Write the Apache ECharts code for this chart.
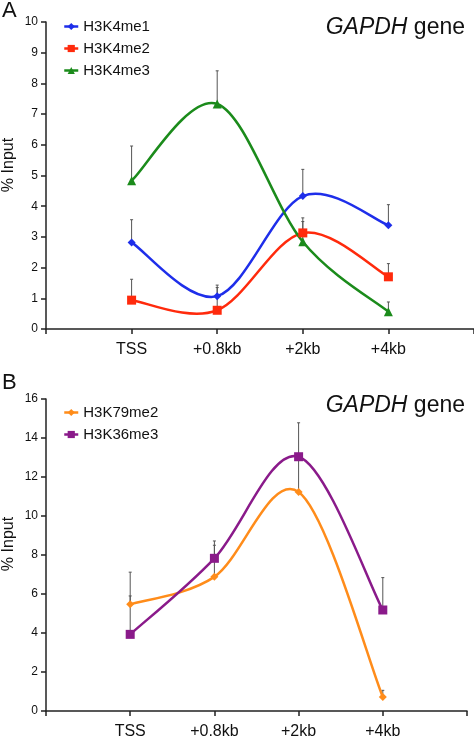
<!DOCTYPE html>
<html>
<head>
<meta charset="utf-8">
<script src="https://cdn.jsdelivr.net/npm/echarts@6/dist/echarts.min.js"></script>
<style>
html, body { margin: 0; padding: 0; background: #fff; }
#chart { width: 474px; height: 741px; }
</style>
</head>
<body>
<div id="chart"></div>
<script>
// categories along the gene
var categories = ['TSS', '+0.8kb', '+2kb', '+4kb'];

// panel A: H3K4 methylation (% input) and tops of the error bars
var h3k4me1 = [2.82, 1.07, 4.33, 3.38];
var h3k4me1Top = [3.56, 1.43, 5.2, 4.05];
var h3k4me2 = [0.94, 0.61, 3.13, 1.7];
var h3k4me2Top = [1.62, 1.35, 3.62, 2.13];
var h3k4me3 = [4.83, 7.33, 2.84, 0.56];
var h3k4me3Top = [5.96, 8.41, 3.5, 0.88];

// panel B
var h3k79me2 = [5.47, 6.88, 11.23, 0.72];
var h3k79me2Top = [5.9, 8.5, 12.9, 1.06];
var h3k36me3 = [3.93, 7.83, 13.04, 5.18];
var h3k36me3Top = [7.12, 8.72, 14.78, 6.84];

var black = '#222';
var font = 'Arial, "Liberation Sans", sans-serif';

function pts(vals) {
	return vals.map(function(v, i) { return [i + 1, v]; });
}
function errPts(vals, tops) {
	return vals.map(function(v, i) { return [i + 1, v, tops[i]]; });
}

// 只画点（和图例），曲线由下面的 custom 系列画
function markSeries(name, vals, color, symbol, size, idx) {
	return {
		name: name,
		type: 'line',
		xAxisIndex: idx,
		yAxisIndex: idx,
		data: pts(vals),
		symbol: symbol,
		symbolSize: size,
		color: color,
		lineStyle: { width: 2.5, color: color, opacity: 0 },
		itemStyle: { color: color },
		z: 4
	};
}

// Excel 式平滑曲线 (Catmull-Rom -> bezier)
function curveSeries(vals, color, idx) {
	return {
		type: 'custom',
		xAxisIndex: idx,
		yAxisIndex: idx,
		data: pts(vals),
		silent: true,
		z: 3,
		renderItem: function(params, api) {
			if (params.dataIndex !== 0) return;
			var p = vals.map(function(v, i) { return api.coord([i + 1, v]); });
			var n = p.length;
			var d = 'M' + p[0][0] + ' ' + p[0][1];
			for (var i = 0; i < n - 1; i++) {
				var a = p[i - 1] || p[i];
				var b = p[i];
				var c = p[i + 1];
				var e = p[i + 2] || p[i + 1];
				var c1x = b[0] + (c[0] - a[0]) / 6;
				var c1y = b[1] + (c[1] - a[1]) / 6;
				var c2x = c[0] - (e[0] - b[0]) / 6;
				var c2y = c[1] - (e[1] - b[1]) / 6;
				d += ' C' + c1x + ' ' + c1y + ' ' + c2x + ' ' + c2y + ' ' + c[0] + ' ' + c[1];
			}
			return {
				type: 'path',
				shape: { pathData: d },
				style: { fill: null, stroke: color, lineWidth: 2.5 }
			};
		}
	};
}

// 误差线，只画向上的部分
function errSeries(vals, tops, idx) {
	return {
		type: 'custom',
		xAxisIndex: idx,
		yAxisIndex: idx,
		data: errPts(vals, tops),
		silent: true,
		z: 2,
		renderItem: function(params, api) {
			var p0 = api.coord([api.value(0), api.value(1)]);
			var p1 = api.coord([api.value(0), api.value(2)]);
			var style = { stroke: '#555', lineWidth: 1 };
			return {
				type: 'group',
				children: [{
					type: 'line',
					shape: { x1: p0[0], y1: p0[1], x2: p1[0], y2: p1[1] },
					style: style
				}, {
					type: 'line',
					shape: { x1: p1[0] - 1.5, y1: p1[1], x2: p1[0] + 1.5, y2: p1[1] },
					style: style
				}]
			};
		}
	};
}

function xAxis(idx) {
	return {
		type: 'value',
		gridIndex: idx,
		min: 0,
		max: 5,
		interval: 1,
		axisLine: { lineStyle: { color: black, width: 1.5 } },
		axisTick: { show: true, length: 5, lineStyle: { color: black, width: 1.5 } },
		splitLine: { show: false },
		axisLabel: {
			color: '#111',
			fontSize: 16,
			fontFamily: font,
			margin: 13,
			formatter: function(v) { return categories[v - 1] || ''; }
		}
	};
}

function yAxis(idx, max, interval) {
	return {
		type: 'value',
		gridIndex: idx,
		min: 0,
		max: max,
		interval: interval,
		axisLine: { show: true, lineStyle: { color: black, width: 1.5 } },
		axisTick: { show: true, length: 5, lineStyle: { color: black, width: 1.5 } },
		splitLine: { show: false },
		axisLabel: { color: '#111', fontSize: 12, fontFamily: font, margin: 8 }
	};
}

function yTitle(y) {
	return {
		type: 'text',
		x: 9,
		y: y,
		rotation: Math.PI / 2,
		style: {
			text: '% Input', fontSize: 16, fontFamily: font, fill: '#111',
			align: 'center', verticalAlign: 'middle'
		}
	};
}

function geneTitle(top) {
	return {
		type: 'text', right: 9, top: top, style: {
			text: '{i|GAPDH} gene', fontSize: 23, fontFamily: font, fill: '#111',
			rich: { i: { fontStyle: 'italic', fontSize: 23, fontFamily: font } }
		}
	};
}

var legendText = { color: '#111', fontSize: 15, fontFamily: font };
var legendLine = { opacity: 1, width: 2.5 };

var option = {
	animation: false,
	backgroundColor: '#fff',
	grid: [
		{ left: 46, top: 22, width: 428, height: 307, outerBoundsMode: 'none' },
		{ left: 46, top: 399, width: 421, height: 312, outerBoundsMode: 'none' }
	],
	xAxis: [xAxis(0), xAxis(1)],
	yAxis: [yAxis(0, 10, 1), yAxis(1, 16, 2)],
	legend: [{
		data: ['H3K4me1', 'H3K4me2', 'H3K4me3'],
		orient: 'vertical',
		left: 58,
		top: 14,
		itemWidth: 14,
		itemHeight: 9,
		itemGap: 7,
		lineStyle: legendLine,
		textStyle: legendText
	}, {
		data: ['H3K79me2', 'H3K36me3'],
		orient: 'vertical',
		left: 58,
		top: 400,
		itemWidth: 14,
		itemHeight: 9,
		itemGap: 7,
		lineStyle: legendLine,
		textStyle: legendText
	}],
	graphic: [
		{ type: 'text', left: 2, top: 0, style: { text: 'A', fontSize: 22, fontFamily: font, fill: '#111' } },
		{ type: 'text', left: 2, top: 372, style: { text: 'B', fontSize: 22, fontFamily: font, fill: '#111' } },
		geneTitle(16),
		geneTitle(394),
		yTitle(165),
		yTitle(544)
	],
	series: [
		errSeries(h3k4me1, h3k4me1Top, 0),
		errSeries(h3k4me2, h3k4me2Top, 0),
		errSeries(h3k4me3, h3k4me3Top, 0),
		errSeries(h3k79me2, h3k79me2Top, 1),
		errSeries(h3k36me3, h3k36me3Top, 1),
		curveSeries(h3k4me1, '#1E2EEA', 0),
		curveSeries(h3k4me2, '#FF2A0C', 0),
		curveSeries(h3k4me3, '#1B8B1B', 0),
		curveSeries(h3k79me2, '#FF8C1A', 1),
		curveSeries(h3k36me3, '#8A1A8A', 1),
		markSeries('H3K4me1', h3k4me1, '#1E2EEA', 'diamond', 8, 0),
		markSeries('H3K4me2', h3k4me2, '#FF2A0C', 'rect', 9, 0),
		markSeries('H3K4me3', h3k4me3, '#1B8B1B', 'triangle', 9, 0),
		markSeries('H3K79me2', h3k79me2, '#FF8C1A', 'diamond', 8, 1),
		markSeries('H3K36me3', h3k36me3, '#8A1A8A', 'rect', 9, 1)
	]
};

var chart = echarts.init(document.getElementById('chart'));
chart.setOption(option);
</script>
</body>
</html>
